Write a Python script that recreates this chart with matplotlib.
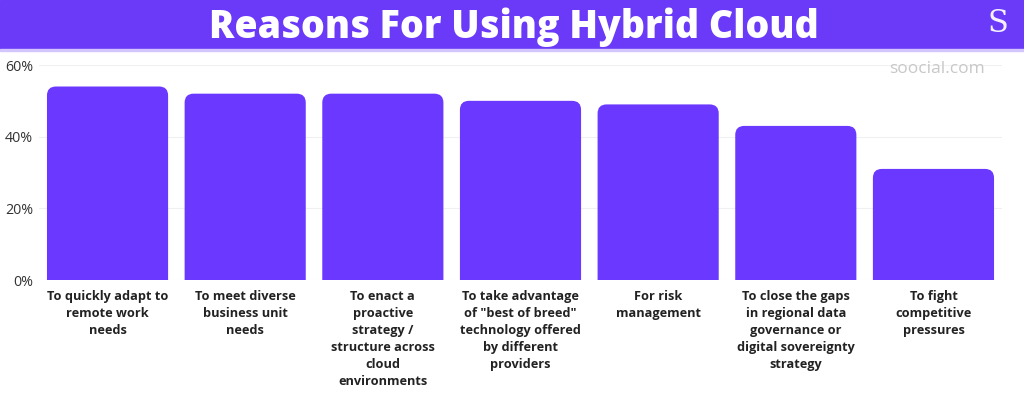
import matplotlib.pyplot as plt
from matplotlib.patches import FancyBboxPatch, Rectangle
import numpy as np

plt.rcParams['font.family'] = ['Open Sans', 'DejaVu Sans']

# dati
categorie = [
    "To quickly adapt to\nremote work\nneeds",
    "To meet diverse\nbusiness unit\nneeds",
    "To enact a\nproactive\nstrategy /\nstructure across\ncloud\nenvironments",
    "To take advantage\nof \"best of breed\"\ntechnology offered\nby different\nproviders",
    "For risk\nmanagement",
    "To close the gaps\nin regional data\ngovernance or\ndigital sovereignty\nstrategy",
    "To fight\ncompetitive\npressures",
]
valori = [54, 52, 52, 50, 49, 43, 31]
tick_y = [0, 20, 40, 60]
tick_lab = ["0%", "20%", "40%", "60%"]

viola = "#6B38FF"

fig = plt.figure(figsize=(10.24, 4), dpi=100)

# banda del titolo
fig.patches.append(Rectangle((0, 1 - 49/400), 1, 49/400, transform=fig.transFigure,
                             color="#6A3AF8", zorder=0))
fig.patches.append(Rectangle((0, 1 - 51/400), 1, 2/400, transform=fig.transFigure,
                             color="#D3C6FF", zorder=0))
fig.text(0.502, 1 - 38/400, "Reasons For Using Hybrid Cloud", ha="center", va="baseline",
         color="white", fontsize=27, fontweight="heavy")
fig.text(0.975, 1 - 24/400, "S", ha="center", va="center", color="#F4F0FF",
         fontsize=22, family="DejaVu Serif")

ax = fig.add_axes([0.0378, 0.30, 0.941, 0.5375])
x = np.arange(len(valori))
barre = ax.bar(x, valori, width=0.88, color=viola)
ax.set_xlim(-0.5, len(valori) - 0.5)
ax.set_ylim(0, 60)

# angoli arrotondati in alto
fig.canvas.draw()
px = ax.transData.transform([(0, 0), (1, 1)])
asp = (px[1, 0] - px[0, 0]) / (px[1, 1] - px[0, 1])
r = 9 / (px[1, 0] - px[0, 0])
for b in barre:
    b.set_visible(False)
    p = FancyBboxPatch((b.get_x(), -5), b.get_width(), b.get_height() + 5,
                       boxstyle="round,pad=0,rounding_size=%f" % r,
                       mutation_aspect=asp, color=viola, lw=0, zorder=2)
    ax.add_patch(p)

ax.set_yticks(tick_y)
ax.set_yticklabels(tick_lab, fontsize=10.3, color="#333333")
ax.set_xticks(x)
ax.set_xticklabels(categorie, fontsize=9.2, fontweight="bold", color="#222222",
                   linespacing=1.4, va="top")
ax.tick_params(axis="y", length=0, pad=4)
ax.tick_params(axis="x", length=0, pad=7)
ax.grid(axis="y", color="#F0F0F0", lw=0.8, zorder=0)
ax.set_axisbelow(True)
for s in ax.spines.values():
    s.set_visible(False)

fig.text(0.962, 1 - 69/400, "soocial.com", ha="right", va="center",
         color="#C8C8C8", fontsize=12.5)

plt.savefig("out.png", dpi=100)
